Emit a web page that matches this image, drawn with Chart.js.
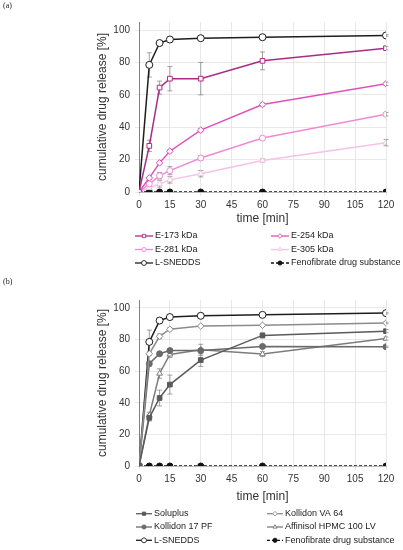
<!DOCTYPE html>
<html>
<head>
<meta charset="utf-8">
<script src="https://cdn.jsdelivr.net/npm/chart.js@4.4.1/dist/chart.umd.min.js"></script>
<style>
  body { margin: 0; background: #fff; }
  #wrap { position: relative; width: 403px; height: 550px; }
  canvas { position: absolute; left: 0; }
  .tag { position: absolute; left: 3px; font: 8px "Liberation Serif", "Times New Roman", serif; color: #222; }
</style>
</head>
<body>
<div id="wrap">
  <canvas id="chartA" width="403" height="270" style="top:0"></canvas>
  <canvas id="chartB" width="403" height="280" style="top:270px"></canvas>
  <div class="tag" style="top:1px">(a)</div>
  <div class="tag" style="top:277px">(b)</div>
</div>
<script>
const times = [0, 5, 10, 15, 30, 60, 120];
const xTicks = [0, 15, 30, 45, 60, 75, 90, 105, 120];
const yTicks = [0, 20, 40, 60, 80, 100];

// panel (a)
const e173 = [0, 28.5, 64.5, 70, 70, 81, 88.8];
const e173Err = [0, 3.5, 4, 7.5, 10, 5.5, 1];
const e254 = [0, 8.7, 18, 25.2, 38.2, 54, 66.8];
const e254Err = [0, 1, 1, 1, 1, 1, 1];
const e281 = [0, 5, 10, 13.2, 21, 33.3, 48];
const e281Err = [0, 1, 2, 2.5, 1.5, 1, 1];
const e305 = [0, 2.5, 5, 7.5, 11.3, 19.5, 30.5];
const e305Err = [0, 1, 2, 2, 2, 1, 2];

// shared
const snedds = [0, 78.5, 92, 94.2, 95, 95.6, 96.7];
const sneddsErr = [0, 7.5, 1.5, 1.5, 0.8, 0.6, 0.5];
const fenofibrate = [0, 0, 0, 0, 0, 0, 0];

// panel (b)
const soluplus = [0, 30.5, 43, 51.5, 67, 82.6, 85.3];
const soluplusErr = [0, 2, 5, 6, 4, 1.5, 1];
const kva64 = [0, 71, 82, 86.5, 88.5, 89, 90.5];
const kva64Err = [0, 1, 1.5, 1, 0.5, 0.5, 0.5];
const k17pf = [0, 64.7, 71, 73, 73, 75.6, 75.4];
const k17pfErr = [0, 1.5, 1, 1, 1, 1, 0.5];
const affinisol = [0, 32, 58.5, 70.6, 73.5, 70.8, 80.6];
const affinisolErr = [0, 2, 3, 2, 3.5, 1.5, 1];

const FONT = '"Liberation Sans", Arial, sans-serif';

function pts(vals) {
  return vals.map((v, i) => ({ x: times[i], y: v }));
}

function series(label, vals, errs, color, style, fill, radius) {
  return {
    label: label,
    data: pts(vals),
    errors: errs,
    borderColor: color,
    backgroundColor: fill,
    borderWidth: 1.5,
    pointStyle: style,
    pointRadius: radius || 3,
    pointBorderColor: color,
    pointBackgroundColor: fill,
    pointBorderWidth: 1
  };
}

function fenoSeries() {
  return {
    label: 'Fenofibrate drug substance',
    data: pts(fenofibrate),
    borderColor: '#111',
    backgroundColor: '#111',
    borderWidth: 1.5,
    borderDash: [3, 2],
    pointStyle: 'circle',
    pointRadius: 3,
    pointBorderColor: '#111',
    pointBackgroundColor: '#111',
    pointBorderWidth: 1
  };
}

// error bars, drawn behind the lines
const errorBars = {
  id: 'errorBars',
  beforeDatasetsDraw(chart) {
    const { ctx, scales: { x, y } } = chart;
    ctx.save();
    ctx.strokeStyle = '#8a8a8a';
    ctx.lineWidth = 0.8;
    chart.data.datasets.forEach(ds => {
      if (!ds.errors) return;
      ds.data.forEach((p, j) => {
        const e = ds.errors[j];
        if (!e) return;
        const px = x.getPixelForValue(p.x);
        const t = y.getPixelForValue(p.y + e);
        const b = y.getPixelForValue(p.y - e);
        ctx.beginPath();
        ctx.moveTo(px, t); ctx.lineTo(px, b);
        ctx.moveTo(px - 2.5, t); ctx.lineTo(px + 2.5, t);
        ctx.moveTo(px - 2.5, b); ctx.lineTo(px + 2.5, b);
        ctx.stroke();
      });
    });
    ctx.restore();
  }
};

// two-column legend under the plot
const legendGrid = {
  id: 'legendGrid',
  afterDraw(chart, args, opts) {
    const ctx = chart.ctx;
    ctx.save();
    ctx.font = '9px ' + FONT;
    ctx.textBaseline = 'middle';
    chart.data.datasets.forEach((ds, i) => {
      const x0 = opts.cols[i % 2];
      const y = opts.rows[Math.floor(i / 2)];
      const len = opts.lineLen;
      ctx.strokeStyle = ds.borderColor;
      ctx.lineWidth = 1.3;
      ctx.setLineDash(ds.borderDash || []);
      ctx.beginPath();
      ctx.moveTo(x0, y);
      ctx.lineTo(x0 + len, y);
      ctx.stroke();
      ctx.setLineDash([]);
      ctx.fillStyle = ds.pointBackgroundColor;
      ctx.strokeStyle = ds.pointBorderColor;
      ctx.lineWidth = 0.9;
      Chart.helpers.drawPoint(ctx, {
        pointStyle: ds.pointStyle,
        radius: ds.pointRadius * 0.7,
        rotation: 0,
        borderWidth: 0.9
      }, x0 + len / 2, y);
      ctx.fillStyle = '#222';
      ctx.fillText(ds.label, x0 + len + 2, y);
    });
    ctx.restore();
  }
};

function makeChart(id, datasets, layout) {
  return new Chart(document.getElementById(id), {
    type: 'line',
    data: { datasets: datasets },
    plugins: [errorBars, legendGrid],
    options: {
      responsive: false,
      animation: false,
      layout: { padding: layout.padding },
      elements: { line: { tension: 0 } },
      scales: {
        x: {
          type: 'linear',
          min: 0,
          max: 120,
          afterBuildTicks: s => { s.ticks = xTicks.map(v => ({ value: v })); },
          afterFit: s => { s.height = layout.xHeight; },
          ticks: { font: { family: FONT, size: 10 }, color: '#333', padding: 3, maxRotation: 0 },
          grid: { color: '#e2e2e2', lineWidth: 0.8, tickLength: 4 },
          border: { color: '#bbb' },
          title: {
            display: true, text: 'time [min]', color: '#333',
            font: { family: FONT, size: 12 }, padding: { top: 0, bottom: layout.xTitlePad }
          }
        },
        y: {
          min: 0,
          max: 105,
          afterBuildTicks: s => { s.ticks = yTicks.map(v => ({ value: v })); },
          afterFit: s => { s.width = 46; },
          ticks: { font: { family: FONT, size: 10 }, color: '#333', padding: 5 },
          grid: { color: '#e2e2e2', lineWidth: 0.8, tickLength: 4 },
          border: { color: '#808080', width: 1 },
          title: {
            display: true, text: 'cumulative drug release [%]', color: '#333',
            font: { family: FONT, size: 12 }, padding: { top: 2, bottom: 2 }
          }
        }
      },
      plugins: {
        legend: { display: false },
        tooltip: { enabled: false },
        legendGrid: layout.legend
      }
    }
  });
}

makeChart('chartA', [
  series('E-173 kDa', e173, e173Err, '#a82c86', 'rect', '#fff', 3.3),
  series('E-254 kDa', e254, e254Err, '#e150be', 'rectRot', '#fff', 3.3),
  series('E-281 kDa', e281, e281Err, '#f08bd3', 'circle', '#fff', 3),
  series('E-305 kDa', e305, e305Err, '#f6c2e6', 'triangle', '#fff', 3.3),
  series('L-SNEDDS', snedds, sneddsErr, '#1e1e1e', 'circle', '#fff', 3.5),
  fenoSeries()
], {
  padding: { left: 93, top: 22, right: 17, bottom: 44 },
  xHeight: 34,
  xTitlePad: 0,
  legend: { cols: [135, 271], rows: [236, 249.5, 263], lineLen: 18 }
});

makeChart('chartB', [
  series('Soluplus', soluplus, soluplusErr, '#5a5a5a', 'rect', '#5a5a5a', 3.3),
  series('Kollidon VA 64', kva64, kva64Err, '#8c8c8c', 'rectRot', '#fff', 3.3),
  series('Kollidon 17 PF', k17pf, k17pfErr, '#6a6a6a', 'circle', '#6a6a6a', 3),
  series('Affinisol HPMC 100 LV', affinisol, affinisolErr, '#7c7c7c', 'triangle', '#fff', 3.3),
  series('L-SNEDDS', snedds, sneddsErr, '#1e1e1e', 'circle', '#fff', 3.5),
  fenoSeries()
], {
  padding: { left: 93, top: 30, right: 17, bottom: 46 },
  xHeight: 38,
  xTitlePad: 0.5,
  legend: { cols: [136, 267], rows: [243.7, 257, 270.3], lineLen: 16 }
});
</script>
</body>
</html>
